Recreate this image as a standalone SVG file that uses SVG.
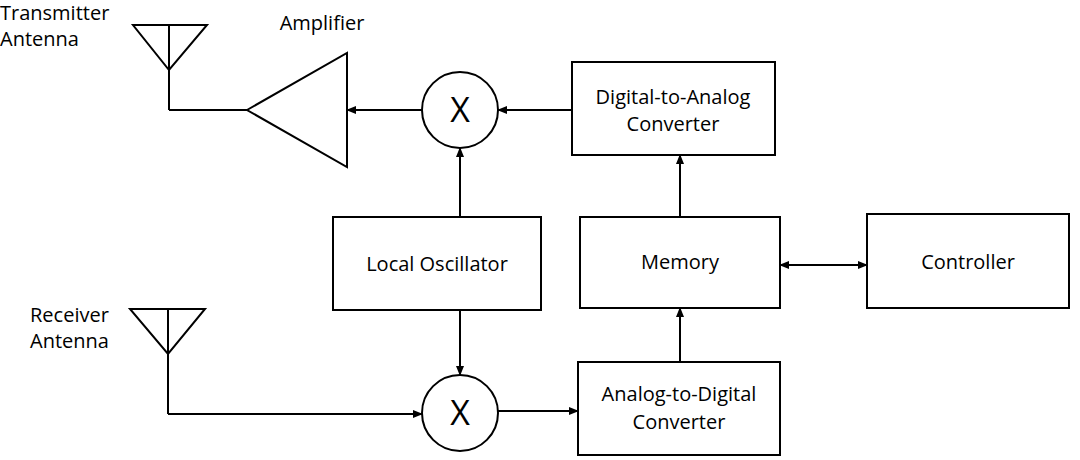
<svg xmlns="http://www.w3.org/2000/svg" width="1080" height="460" viewBox="0 0 1080 460">
<style>
.s{fill:none;stroke:#000;stroke-width:2}
.b{fill:#fff;stroke:#000;stroke-width:2}
text{font-family:"Open Sans","Liberation Sans",sans-serif;font-size:20px;fill:#000}
.c{text-anchor:middle}
.x{font-size:34px}
</style>
<defs><marker id="a" markerWidth="10" markerHeight="8" refX="9" refY="4" orient="auto-start-reverse" markerUnits="userSpaceOnUse"><path d="M0,0L10,4L0,8z"/></marker></defs>
<rect width="1080" height="460" fill="#fff"/>
<g id="tx-antenna"><path class="s" d="M133,25H207L169,70ZM169,25V110"/><text x="0" y="20">Transmitter</text><text x="0" y="46">Antenna</text></g>
<g id="amplifier"><path class="s" d="M247,110L347,53V167Z"/><text x="322" y="30" class="c">Amplifier</text></g>
<g id="mixer-tx"><circle class="b" cx="460" cy="110" r="38"/><text x="460" y="122" class="c x">X</text></g>
<g id="dac"><rect class="b" x="572" y="62" width="203" height="93"/><text x="673" y="104" class="c">Digital-to-Analog</text><text x="673" y="131" class="c">Converter</text></g>
<g id="lo"><rect class="b" x="333" y="217" width="208" height="93"/><text x="437" y="271" class="c">Local Oscillator</text></g>
<g id="memory"><rect class="b" x="580" y="217" width="200" height="91"/><text x="680" y="269" class="c">Memory</text></g>
<g id="controller"><rect class="b" x="867" y="214" width="202" height="94"/><text x="968" y="269" class="c">Controller</text></g>
<g id="rx-antenna"><path class="s" d="M130,309H205L168,354ZM168,309V414"/><text x="30" y="322">Receiver</text><text x="30" y="348">Antenna</text></g>
<g id="mixer-rx"><circle class="b" cx="460" cy="413" r="38"/><text x="460" y="425" class="c x">X</text></g>
<g id="adc"><rect class="b" x="578" y="362" width="202" height="93"/><text x="679" y="401" class="c">Analog-to-Digital</text><text x="679" y="429" class="c">Converter</text></g>
<g id="connectors" class="s">
<path d="M169,110H247"/>
<path d="M422,110H347" marker-end="url(#a)"/>
<path d="M572,110H498" marker-end="url(#a)"/>
<path d="M460,217V148" marker-end="url(#a)"/>
<path d="M680,217V155" marker-end="url(#a)"/>
<path d="M780,265H867" marker-start="url(#a)" marker-end="url(#a)"/>
<path d="M460,310V375" marker-end="url(#a)"/>
<path d="M168,414H422" marker-end="url(#a)"/>
<path d="M498,411H578" marker-end="url(#a)"/>
<path d="M680,362V308" marker-end="url(#a)"/>
</g>
</svg>
